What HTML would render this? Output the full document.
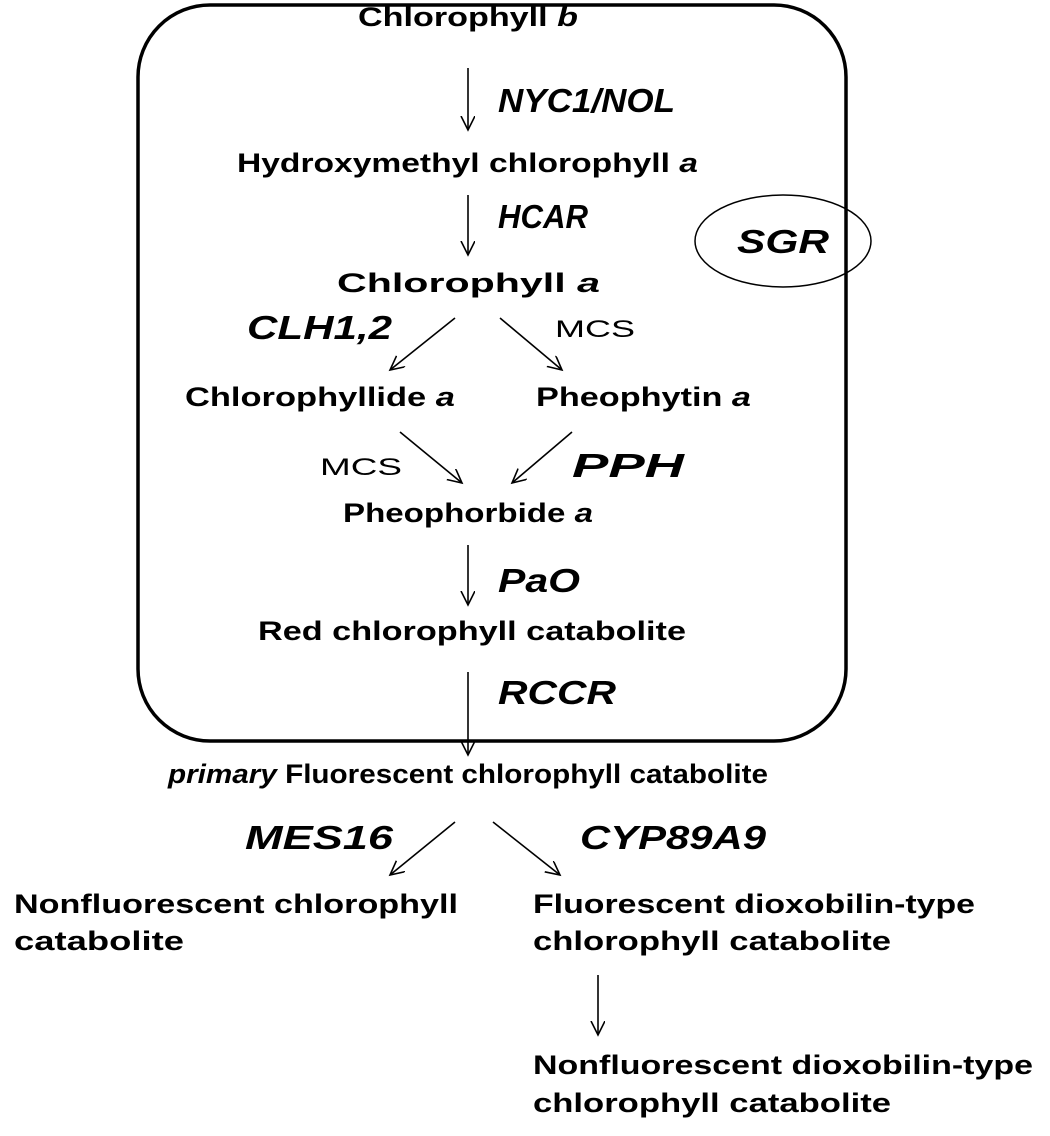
<!DOCTYPE html>
<html><head><meta charset="utf-8"><style>
html,body{margin:0;padding:0;background:#fff;}
svg{display:block;}
text{font-family:"Liberation Sans",Arial,sans-serif;fill:#000;}
.b{font-weight:bold;font-size:27px;}
.e{font-weight:bold;font-style:italic;font-size:33px;}
.m{font-size:24px;}
</style></head><body>
<svg width="1050" height="1136" viewBox="0 0 1050 1136" xmlns="http://www.w3.org/2000/svg">
<defs>
<marker id="a" markerWidth="20" markerHeight="20" refX="14" refY="7" orient="auto" markerUnits="userSpaceOnUse">
<path d="M0,0 L14,7 L0,14" fill="none" stroke="#000" stroke-width="1.6"/>
</marker>
</defs>
<rect x="138" y="5" width="708" height="736" rx="72" ry="72" fill="none" stroke="#000" stroke-width="3.5"/>
<ellipse cx="783" cy="241" rx="88" ry="46" fill="none" stroke="#000" stroke-width="1.5"/>
<text class="e" x="783" y="253" text-anchor="middle" textLength="92" lengthAdjust="spacingAndGlyphs">SGR</text>

<g stroke="#000" stroke-width="1.6" fill="none" marker-end="url(#a)">
<line x1="468" y1="68" x2="468" y2="130"/>
<line x1="468" y1="195" x2="468" y2="255"/>
<line x1="455" y1="318" x2="390" y2="370"/>
<line x1="500" y1="318" x2="562" y2="370"/>
<line x1="400" y1="432" x2="462" y2="483"/>
<line x1="572" y1="432" x2="512" y2="483"/>
<line x1="468" y1="545" x2="468" y2="605"/>
<line x1="468" y1="672" x2="468" y2="755"/>
<line x1="455" y1="822" x2="390" y2="875"/>
<line x1="493" y1="822" x2="560" y2="875"/>
<line x1="598" y1="975" x2="598" y2="1035"/>
</g>

<text class="b" x="358" y="26" textLength="220" lengthAdjust="spacingAndGlyphs">Chlorophyll <tspan font-style="italic">b</tspan></text>
<text class="e" x="498" y="112" textLength="177" lengthAdjust="spacingAndGlyphs">NYC1/NOL</text>
<text class="b" x="237" y="172" textLength="461" lengthAdjust="spacingAndGlyphs">Hydroxymethyl chlorophyll <tspan font-style="italic">a</tspan></text>
<text class="e" x="498" y="228" textLength="90" lengthAdjust="spacingAndGlyphs">HCAR</text>
<text class="b" x="337" y="292" textLength="263" lengthAdjust="spacingAndGlyphs">Chlorophyll <tspan font-style="italic">a</tspan></text>
<text class="e" x="247" y="339" textLength="145" lengthAdjust="spacingAndGlyphs">CLH1,2</text>
<text class="m" x="555" y="337" textLength="80" lengthAdjust="spacingAndGlyphs">MCS</text>
<text class="b" x="185" y="406" textLength="270" lengthAdjust="spacingAndGlyphs">Chlorophyllide <tspan font-style="italic">a</tspan></text>
<text class="b" x="536" y="406" textLength="215" lengthAdjust="spacingAndGlyphs">Pheophytin <tspan font-style="italic">a</tspan></text>
<text class="m" x="320" y="475" textLength="82" lengthAdjust="spacingAndGlyphs">MCS</text>
<text class="e" x="572" y="477" textLength="112" lengthAdjust="spacingAndGlyphs">PPH</text>
<text class="b" x="343" y="522" textLength="250" lengthAdjust="spacingAndGlyphs">Pheophorbide <tspan font-style="italic">a</tspan></text>
<text class="e" x="498" y="592" textLength="82" lengthAdjust="spacingAndGlyphs">PaO</text>
<text class="b" x="258" y="640" textLength="428" lengthAdjust="spacingAndGlyphs">Red chlorophyll catabolite</text>
<text class="e" x="498" y="704" textLength="118" lengthAdjust="spacingAndGlyphs">RCCR</text>
<text class="b" x="168" y="783" textLength="600" lengthAdjust="spacingAndGlyphs"><tspan font-style="italic">primary</tspan> Fluorescent chlorophyll catabolite</text>
<text class="e" x="245" y="849" textLength="148" lengthAdjust="spacingAndGlyphs">MES16</text>
<text class="e" x="580" y="849" textLength="186" lengthAdjust="spacingAndGlyphs">CYP89A9</text>
<text class="b" x="14" y="913" textLength="444" lengthAdjust="spacingAndGlyphs">Nonfluorescent chlorophyll</text>
<text class="b" x="14" y="950" textLength="170" lengthAdjust="spacingAndGlyphs">catabolite</text>
<text class="b" x="533" y="913" textLength="442" lengthAdjust="spacingAndGlyphs">Fluorescent dioxobilin-type</text>
<text class="b" x="533" y="950" textLength="358" lengthAdjust="spacingAndGlyphs">chlorophyll catabolite</text>
<text class="b" x="533" y="1074" textLength="500" lengthAdjust="spacingAndGlyphs">Nonfluorescent dioxobilin-type</text>
<text class="b" x="533" y="1112" textLength="358" lengthAdjust="spacingAndGlyphs">chlorophyll catabolite</text>
</svg>
</body></html>
